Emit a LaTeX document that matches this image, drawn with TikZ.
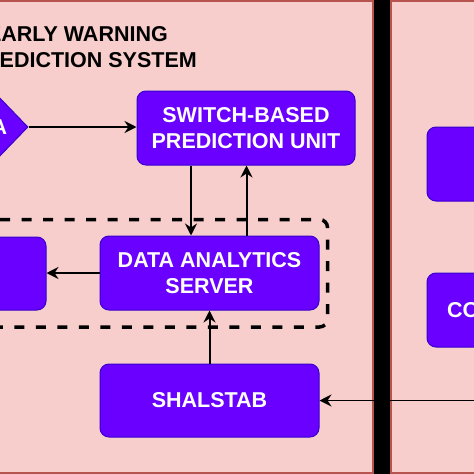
\documentclass[tikz,border=0pt]{standalone}
\usepackage{fontspec}
\setmainfont{Liberation Sans}
\usetikzlibrary{arrows.meta,shapes.geometric}
\definecolor{pinkfill}{HTML}{F8CECC}
\definecolor{pinkline}{HTML}{B85450}
\definecolor{violetfill}{HTML}{6A00FF}
\definecolor{violetline}{HTML}{3700CC}
\begin{document}
\begin{tikzpicture}[x=1pt,y=-1pt,
  txt/.style={font=\bfseries\fontsize{21.5}{25.5}\selectfont},
  box/.style={txt, draw=violetline, fill=violetfill, rounded corners=9pt,
    line width=1pt, text=white, align=center, inner sep=0pt},
  dia/.style={txt, diamond, draw=violetline, fill=violetfill, line width=1pt,
    text=white, inner sep=0pt},
  titletext/.style={txt, text=black, inner sep=0pt, anchor=base east},
  arr/.style={line width=2pt, -{Stealth[length=12pt,width=12pt,inset=4pt]}},
  arrthin/.style={line width=1.4pt, -{Stealth[length=12pt,width=12pt,inset=4pt]}},
  panel/.style={fill=pinkfill, draw=pinkline, line width=2.2pt},
  dashbox/.style={draw=black, line width=3.5pt, dash pattern=on 10pt off 11.5pt, rounded corners=8pt}
]
\useasboundingbox (0,0) rectangle (474,474);
% panels
\draw[panel] (-20,1.2) rectangle (373,472.8);
\draw[panel] (391,1.2) rectangle (520,472.8);
\fill[black] (374,-10) rectangle (390.3,490);
% title
\node[titletext] (t1) at (168,41) {EARLY WARNING};
\node[titletext] (t2) at (197,67.6) {PREDICTION SYSTEM};
% dashed group
\draw[dashbox] (-43,219.5) -- (327.5,219.5) -- (327.5,327) -- (-43,327);
% nodes
\node[dia, minimum width=98pt, minimum height=101.5pt] (data) at (-21,127) {DATA};
\node[box, minimum width=218pt, minimum height=74pt] (switch) at (246,128) {SWITCH-BASED\\PREDICTION UNIT};
\node[box, minimum width=219pt, minimum height=74pt] (das) at (209.5,273) {DATA ANALYTICS\\SERVER};
\node[box, minimum width=219pt, minimum height=73pt] (shal) at (209.5,400.5) {SHALSTAB};
\node[box, minimum width=166pt, minimum height=73pt] (leftbox) at (-37,273.5) {};
\node[box, minimum width=140pt, minimum height=74pt] (rbox1) at (497,164) {};
\node[box, minimum width=140pt, minimum height=74pt, text width=100pt, align=left, inner xsep=20pt] (rbox2) at (497,310) {CO};
\coordinate (rin) at (480,400.5);
% connectors
\draw[arr] (data.east) -- (data.east -| switch.west);
\draw[arr] (191,0 |- switch.south) -- (191,0 |- das.north);
\draw[arr] (246.5,0 |- das.north) -- (246.5,0 |- switch.south);
\draw[arr] (das.west) -- (das.west -| leftbox.east);
\draw[arr] (shal.north) -- (das.south);
\draw[arrthin] (rin) -- (shal.east);
\end{tikzpicture}
\end{document}
